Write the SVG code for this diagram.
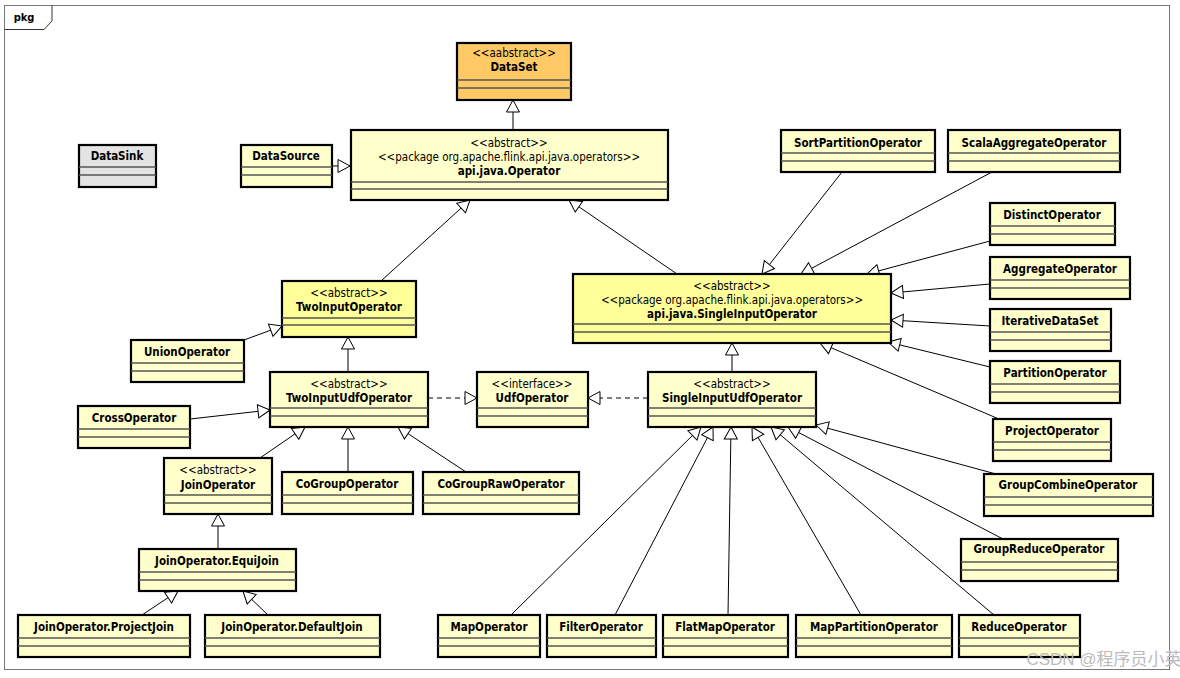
<svg xmlns="http://www.w3.org/2000/svg" width="1180" height="678" viewBox="0 0 1180 678">
<style>
.b{fill:#FFFFCC;stroke:#000;stroke-width:2.2}
.y{fill:#FFFF99}
.o{fill:#FFC966}
.g{fill:#E3E3E3}
.s{stroke:#555;stroke-width:1.3}
text{font-family:"DejaVu Sans Condensed","Liberation Sans",sans-serif;font-size:11.5px;text-anchor:middle;fill:#000}
.t{font-weight:bold}
.c line,.c path{stroke:#000;stroke-width:1;fill:none}
.c .d{stroke-dasharray:5,4}
</style>
<defs>
<marker id="tri" markerUnits="userSpaceOnUse" markerWidth="16" markerHeight="16" viewBox="-14 -7 16 14" refX="0" refY="0" orient="auto">
<path d="M0,0 L-12,-6.5 L-12,6.5 Z" fill="#fff" stroke="#000" stroke-width="1"/>
</marker>
</defs>
<rect x="0" y="0" width="1180" height="678" fill="#fff"/>
<rect x="4.5" y="5.5" width="1165" height="664" fill="none" stroke="#777" stroke-width="1"/>
<path d="M4.5,29.5 H44 L52,21 V5.5" fill="none" stroke="#333" stroke-width="1"/>
<text x="24" y="21" style="font-size:11px;font-weight:bold">pkg</text>

<g class="c">
<line x1="513" y1="130" x2="513" y2="100" marker-end="url(#tri)"/>
<line x1="332" y1="166" x2="350" y2="166" marker-end="url(#tri)"/>
<line x1="381" y1="281" x2="470" y2="200" marker-end="url(#tri)"/>
<line x1="677" y1="274" x2="569" y2="200" marker-end="url(#tri)"/>
<line x1="244" y1="340" x2="282" y2="326" marker-end="url(#tri)"/>
<line x1="348" y1="372" x2="348" y2="337" marker-end="url(#tri)"/>
<line x1="190" y1="419" x2="270" y2="410" marker-end="url(#tri)"/>
<line class="d" x1="428" y1="398" x2="477" y2="398" marker-end="url(#tri)"/>
<line class="d" x1="648" y1="398" x2="588" y2="398" marker-end="url(#tri)"/>
<line x1="260" y1="458" x2="305" y2="427" marker-end="url(#tri)"/>
<line x1="348" y1="472" x2="348" y2="427" marker-end="url(#tri)"/>
<line x1="466" y1="472" x2="398" y2="427" marker-end="url(#tri)"/>
<line x1="218" y1="549" x2="218" y2="514" marker-end="url(#tri)"/>
<line x1="142" y1="615" x2="178" y2="591" marker-end="url(#tri)"/>
<line x1="268" y1="615" x2="243" y2="591" marker-end="url(#tri)"/>
<line x1="732" y1="372" x2="732" y2="343" marker-end="url(#tri)"/>
<line x1="842" y1="172" x2="762" y2="274" marker-end="url(#tri)"/>
<line x1="992" y1="172" x2="801" y2="274" marker-end="url(#tri)"/>
<line x1="990" y1="241" x2="867" y2="274" marker-end="url(#tri)"/>
<line x1="990" y1="284" x2="891" y2="293" marker-end="url(#tri)"/>
<line x1="990" y1="326" x2="891" y2="320" marker-end="url(#tri)"/>
<line x1="990" y1="367" x2="888" y2="342" marker-end="url(#tri)"/>
<line x1="999" y1="419" x2="820" y2="343" marker-end="url(#tri)"/>
<line x1="996" y1="474" x2="816" y2="425" marker-end="url(#tri)"/>
<line x1="1003" y1="539" x2="788" y2="427" marker-end="url(#tri)"/>
<line x1="994" y1="615" x2="771" y2="427" marker-end="url(#tri)"/>
<line x1="861" y1="615" x2="752" y2="427" marker-end="url(#tri)"/>
<line x1="728" y1="615" x2="731" y2="427" marker-end="url(#tri)"/>
<line x1="615" y1="615" x2="713" y2="427" marker-end="url(#tri)"/>
<line x1="511" y1="615" x2="701" y2="427" marker-end="url(#tri)"/>
</g>

<g id="DataSet"><rect class="b o" x="457" y="43" width="114" height="57"/><text x="514" y="57">&lt;&lt;aabstract&gt;&gt;</text><text class="t" x="514" y="71">DataSet</text><line class="s" x1="457" y1="80" x2="571" y2="80"/><line class="s" x1="457" y1="88" x2="571" y2="88"/></g>
<g id="DataSink"><rect class="b g" x="79" y="145" width="77" height="42"/><text class="t" x="117" y="160">DataSink</text><line class="s" x1="79" y1="167" x2="156" y2="167"/><line class="s" x1="79" y1="175" x2="156" y2="175"/></g>
<g id="DataSource"><rect class="b" x="241" y="145" width="91" height="42"/><text class="t" x="286" y="160">DataSource</text><line class="s" x1="241" y1="167" x2="332" y2="167"/><line class="s" x1="241" y1="175" x2="332" y2="175"/></g>
<g id="Operator"><rect class="b" x="351" y="130" width="317" height="70"/><text x="509" y="147">&lt;&lt;abstract&gt;&gt;</text><text x="509" y="161">&lt;&lt;package org.apache.flink.api.java.operators&gt;&gt;</text><text class="t" x="509" y="175">api.java.Operator</text><line class="s" x1="351" y1="182" x2="668" y2="182"/><line class="s" x1="351" y1="189" x2="668" y2="189"/></g>
<g id="TwoInputOperator"><rect class="b y" x="282" y="281" width="134" height="56"/><text x="349" y="297">&lt;&lt;abstract&gt;&gt;</text><text class="t" x="349" y="311">TwoInputOperator</text><line class="s" x1="282" y1="318" x2="416" y2="318"/><line class="s" x1="282" y1="325" x2="416" y2="325"/></g>
<g id="SingleInputOperator"><rect class="b y" x="573" y="274" width="318" height="69"/><text x="732" y="290">&lt;&lt;abstract&gt;&gt;</text><text x="732" y="304">&lt;&lt;package org.apache.flink.api.java.operators&gt;&gt;</text><text class="t" x="732" y="318">api.java.SingleInputOperator</text><line class="s" x1="573" y1="324" x2="891" y2="324"/><line class="s" x1="573" y1="332" x2="891" y2="332"/></g>
<g id="SortPartitionOperator"><rect class="b" x="781" y="130" width="154" height="42"/><text class="t" x="858" y="147">SortPartitionOperator</text><line class="s" x1="781" y1="153" x2="935" y2="153"/><line class="s" x1="781" y1="161" x2="935" y2="161"/></g>
<g id="ScalaAggregateOperator"><rect class="b" x="948" y="130" width="172" height="42"/><text class="t" x="1034" y="147">ScalaAggregateOperator</text><line class="s" x1="948" y1="153" x2="1120" y2="153"/><line class="s" x1="948" y1="161" x2="1120" y2="161"/></g>
<g id="DistinctOperator"><rect class="b" x="990" y="203" width="125" height="42"/><text class="t" x="1052" y="219">DistinctOperator</text><line class="s" x1="990" y1="226" x2="1115" y2="226"/><line class="s" x1="990" y1="234" x2="1115" y2="234"/></g>
<g id="AggregateOperator"><rect class="b" x="990" y="257" width="140" height="42"/><text class="t" x="1060" y="273">AggregateOperator</text><line class="s" x1="990" y1="280" x2="1130" y2="280"/><line class="s" x1="990" y1="288" x2="1130" y2="288"/></g>
<g id="IterativeDataSet"><rect class="b" x="990" y="309" width="121" height="42"/><text class="t" x="1050" y="325">IterativeDataSet</text><line class="s" x1="990" y1="332" x2="1111" y2="332"/><line class="s" x1="990" y1="340" x2="1111" y2="340"/></g>
<g id="PartitionOperator"><rect class="b" x="990" y="361" width="130" height="42"/><text class="t" x="1055" y="377">PartitionOperator</text><line class="s" x1="990" y1="384" x2="1120" y2="384"/><line class="s" x1="990" y1="392" x2="1120" y2="392"/></g>
<g id="ProjectOperator"><rect class="b" x="993" y="419" width="118" height="42"/><text class="t" x="1052" y="435">ProjectOperator</text><line class="s" x1="993" y1="442" x2="1111" y2="442"/><line class="s" x1="993" y1="450" x2="1111" y2="450"/></g>
<g id="GroupCombineOperator"><rect class="b" x="984" y="474" width="169" height="42"/><text class="t" x="1068" y="489">GroupCombineOperator</text><line class="s" x1="984" y1="497" x2="1153" y2="497"/><line class="s" x1="984" y1="505" x2="1153" y2="505"/></g>
<g id="GroupReduceOperator"><rect class="b" x="961" y="539" width="157" height="42"/><text class="t" x="1039" y="553">GroupReduceOperator</text><line class="s" x1="961" y1="562" x2="1118" y2="562"/><line class="s" x1="961" y1="570" x2="1118" y2="570"/></g>
<g id="SingleInputUdfOperator"><rect class="b" x="648" y="372" width="168" height="55"/><text x="732" y="388">&lt;&lt;abstract&gt;&gt;</text><text class="t" x="732" y="402">SingleInputUdfOperator</text><line class="s" x1="648" y1="408" x2="816" y2="408"/><line class="s" x1="648" y1="416" x2="816" y2="416"/></g>
<g id="UdfOperator"><rect class="b" x="477" y="372" width="111" height="55"/><text x="532" y="388">&lt;&lt;interface&gt;&gt;</text><text class="t" x="532" y="402">UdfOperator</text><line class="s" x1="477" y1="408" x2="588" y2="408"/><line class="s" x1="477" y1="416" x2="588" y2="416"/></g>
<g id="TwoInputUdfOperator"><rect class="b" x="270" y="372" width="158" height="55"/><text x="349" y="388">&lt;&lt;abstract&gt;&gt;</text><text class="t" x="349" y="402">TwoInputUdfOperator</text><line class="s" x1="270" y1="408" x2="428" y2="408"/><line class="s" x1="270" y1="416" x2="428" y2="416"/></g>
<g id="UnionOperator"><rect class="b" x="131" y="340" width="113" height="42"/><text class="t" x="187" y="356">UnionOperator</text><line class="s" x1="131" y1="363" x2="244" y2="363"/><line class="s" x1="131" y1="371" x2="244" y2="371"/></g>
<g id="CrossOperator"><rect class="b" x="78" y="406" width="112" height="42"/><text class="t" x="134" y="422">CrossOperator</text><line class="s" x1="78" y1="429" x2="190" y2="429"/><line class="s" x1="78" y1="437" x2="190" y2="437"/></g>
<g id="JoinOperator"><rect class="b" x="164" y="458" width="108" height="56"/><text x="218" y="474">&lt;&lt;abstract&gt;&gt;</text><text class="t" x="218" y="489">JoinOperator</text><line class="s" x1="164" y1="495" x2="272" y2="495"/><line class="s" x1="164" y1="503" x2="272" y2="503"/></g>
<g id="CoGroupOperator"><rect class="b" x="282" y="472" width="131" height="42"/><text class="t" x="347" y="488">CoGroupOperator</text><line class="s" x1="282" y1="495" x2="413" y2="495"/><line class="s" x1="282" y1="503" x2="413" y2="503"/></g>
<g id="CoGroupRawOperator"><rect class="b" x="423" y="472" width="156" height="42"/><text class="t" x="501" y="488">CoGroupRawOperator</text><line class="s" x1="423" y1="495" x2="579" y2="495"/><line class="s" x1="423" y1="503" x2="579" y2="503"/></g>
<g id="EquiJoin"><rect class="b" x="139" y="549" width="157" height="42"/><text class="t" x="217" y="565">JoinOperator.EquiJoin</text><line class="s" x1="139" y1="572" x2="296" y2="572"/><line class="s" x1="139" y1="580" x2="296" y2="580"/></g>
<g id="ProjectJoin"><rect class="b" x="18" y="615" width="172" height="42"/><text class="t" x="104" y="631">JoinOperator.ProjectJoin</text><line class="s" x1="18" y1="638" x2="190" y2="638"/><line class="s" x1="18" y1="646" x2="190" y2="646"/></g>
<g id="DefaultJoin"><rect class="b" x="205" y="615" width="175" height="42"/><text class="t" x="292" y="631">JoinOperator.DefaultJoin</text><line class="s" x1="205" y1="638" x2="380" y2="638"/><line class="s" x1="205" y1="646" x2="380" y2="646"/></g>
<g id="MapOperator"><rect class="b" x="438" y="615" width="102" height="42"/><text class="t" x="489" y="631">MapOperator</text><line class="s" x1="438" y1="638" x2="540" y2="638"/><line class="s" x1="438" y1="646" x2="540" y2="646"/></g>
<g id="FilterOperator"><rect class="b" x="547" y="615" width="109" height="42"/><text class="t" x="601" y="631">FilterOperator</text><line class="s" x1="547" y1="638" x2="656" y2="638"/><line class="s" x1="547" y1="646" x2="656" y2="646"/></g>
<g id="FlatMapOperator"><rect class="b" x="663" y="615" width="125" height="42"/><text class="t" x="725" y="631">FlatMapOperator</text><line class="s" x1="663" y1="638" x2="788" y2="638"/><line class="s" x1="663" y1="646" x2="788" y2="646"/></g>
<g id="MapPartitionOperator"><rect class="b" x="796" y="615" width="156" height="42"/><text class="t" x="874" y="631">MapPartitionOperator</text><line class="s" x1="796" y1="638" x2="952" y2="638"/><line class="s" x1="796" y1="646" x2="952" y2="646"/></g>
<g id="ReduceOperator"><rect class="b" x="959" y="615" width="121" height="42"/><text class="t" x="1019" y="631">ReduceOperator</text><line class="s" x1="959" y1="638" x2="1080" y2="638"/><line class="s" x1="959" y1="646" x2="1080" y2="646"/></g>
<text x="1104" y="665" style="font-family:'Liberation Sans','Noto Sans CJK SC',sans-serif;font-size:17px;fill:#bbb">CSDN @程序员小英</text>
</svg>
